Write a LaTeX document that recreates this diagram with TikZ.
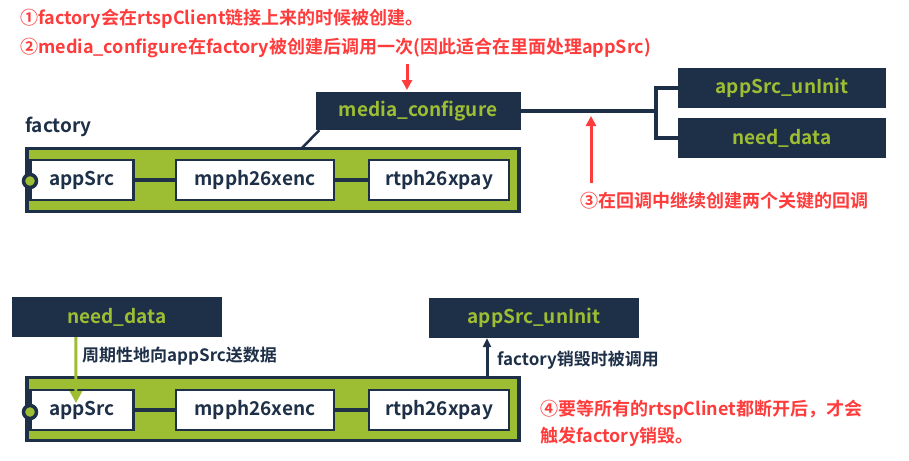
\documentclass[tikz,border=0pt]{standalone}
\usepackage{fontspec}
\setmainfont{Noto Sans CJK SC}[BoldFont={* Bold}]
\usetikzlibrary{arrows.meta}
\definecolor{navy}{HTML}{1E3048}
\definecolor{lgreen}{HTML}{9DBD32}
\definecolor{rred}{HTML}{FF3B3B}
\begin{document}
\begin{tikzpicture}[x=1pt,y=-1pt,font=\bfseries\fontsize{19}{22}\selectfont,
 dk/.style={fill=navy,draw=none,text=lgreen,inner sep=0},
 wb/.style={fill=white,draw=navy,line width=2.5pt,text=navy,inner sep=0},
 cont/.style={fill=lgreen,draw=navy,line width=3.5pt},
 ln/.style={draw=navy,line width=3.5pt},
 rt/.style={text=rred,anchor=west,inner sep=0,font=\bfseries\fontsize{18}{21}\selectfont},
 bt/.style={text=navy,anchor=west,inner sep=0,font=\bfseries\fontsize{17}{20}\selectfont},
 rar/.style={draw=rred,line width=3pt,-{Triangle[length=10pt,width=10pt]}}]
\useasboundingbox (0,0) rectangle (909,460);
\node[rt] (t1) at (20,19) {①factory会在rtspClient链接上来的时候被创建。};
\node[rt] (t2) at (20,48) {②media\_configure在factory被创建后调用一次(因此适合在里面处理appSrc)};
\node[anchor=west,text=navy,inner sep=0] (fl) at (25,127) {factory};
% top factory
\node[cont,minimum width=492pt,minimum height=63pt] (c1) at (273,180) {};
\node[wb,minimum width=103pt,minimum height=40pt] (a1) at (82,180) {appSrc};
\node[wb,minimum width=158pt,minimum height=40pt] (m1) at (255,180) {mpph26xenc};
\node[wb,minimum width=140pt,minimum height=40pt] (r1) at (439,180) {rtph26xpay};
\draw[ln] (a1) -- (m1); \draw[ln] (m1) -- (r1);
\node[circle,fill=lgreen,draw=navy,line width=3.5pt,minimum size=13pt,inner sep=0] (k1) at (30,181) {};
\node[dk,minimum width=205pt,minimum height=38pt] (mc) at (418,111) {media\_configure};
\draw[navy,line width=2.5pt] (mc.south west)+(4,0) coordinate (q1) (q1) -- (302,148);
\node[dk,minimum width=208pt,minimum height=40pt] (au1) at (782,88) {appSrc\_unInit};
\node[dk,minimum width=208pt,minimum height=40pt] (nd1) at (782,138) {need\_data};
\coordinate (br) at (656,111);
\draw[ln] (mc.east) -- (br);
\draw[ln] (au1.west) -| (br) |- (nd1.west);
\draw[rar] (407,64) coordinate (ra) -- (407,90);
\draw[rar] (591,183) -- (591,116);
\node[rt] (t3) at (580,201) {③在回调中继续创建两个关键的回调};
% bottom
\node[dk,minimum width=210pt,minimum height=40pt] (nd2) at (117,317) {need\_data};
\node[dk,minimum width=210pt,minimum height=40pt] (au2) at (534,318) {appSrc\_unInit};
\node[cont,minimum width=492pt,minimum height=63pt] (c2) at (273,409) {};
\node[wb,minimum width=103pt,minimum height=40pt] (a2) at (82,410) {appSrc};
\node[wb,minimum width=158pt,minimum height=40pt] (m2) at (255,410) {mpph26xenc};
\node[wb,minimum width=140pt,minimum height=40pt] (r2) at (439,410) {rtph26xpay};
\draw[ln] (a2) -- (m2); \draw[ln] (m2) -- (r2);
\node[circle,fill=lgreen,draw=navy,line width=3.5pt,minimum size=13pt,inner sep=0] (k2) at (30,412) {};
\draw[draw=lgreen,line width=3pt,-{Triangle[length=12pt,width=12pt]}] (nd2.south west)+(64,0) coordinate (g1) (g1) -- (76,403);
\node[bt] (tb1) at (82,356) {周期性地向appSrc送数据};
\draw[draw=navy,line width=3pt,-{Triangle[length=9pt,width=8pt]}] (487,376) -- (au2.south -| 487,0);
\node[bt] (tb2) at (497,360) {factory销毁时被调用};
\node[rt] (t4) at (540,410) {④要等所有的rtspClinet都断开后，才会};
\node[rt] (t5) at (540,437) {触发factory销毁。};
\end{tikzpicture}
\end{document}
